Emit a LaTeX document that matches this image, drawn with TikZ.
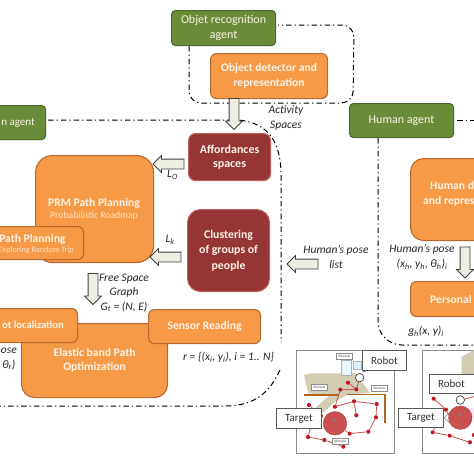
\documentclass[tikz,border=0pt]{standalone}
\usepackage{fontspec}
\setmainfont{Carlito}
\usetikzlibrary{shapes.arrows,calc}
\definecolor{org}{HTML}{F79A48}
\definecolor{orgd}{HTML}{B5692E}
\definecolor{grn}{HTML}{6A8C38}
\definecolor{grnd}{HTML}{4C6828}
\definecolor{drd}{HTML}{953536}
\definecolor{drdl}{HTML}{C0605C}
\definecolor{pale}{HTML}{FDF3E6}
\definecolor{arrf}{HTML}{EDEDE2}
\definecolor{dotr}{HTML}{C01A28}
\definecolor{lnr}{HTML}{C9504F}
\definecolor{beig}{HTML}{D3CDB4}
\definecolor{brn}{HTML}{B0641C}
\newcommand{\bx}[7]{\node[#2,anchor=north west,minimum width=#5pt-#3pt,minimum height=#6pt-#4pt] (#1) at (#3,#4) {#7};}
\tikzset{
 x=1pt,y=-1pt,
 base/.style={inner sep=0pt,align=center,line width=1.1pt},
 orange/.style={base,draw=orgd,fill=org,rounded corners=6pt,text=pale,font=\fontsize{11.6}{14.5}\selectfont\bfseries},
 green/.style={base,draw=grnd,fill=grn,rounded corners=4pt,text=pale,font=\fontsize{12}{14.5}\selectfont},
 dred/.style={base,draw=drdl,fill=drd,rounded corners=7pt,text=pale,font=\fontsize{12}{14.5}\selectfont\bfseries},
 agentline/.style={line width=1pt,dash pattern=on 5.5pt off 3pt on 1.3pt off 3pt,rounded corners=12pt},
 lab/.style={inner sep=0pt,align=center,font=\fontsize{11.5}{14.3}\selectfont\itshape,text=black!85},
 blk/.style={single arrow,draw=black!75,fill=arrf,line width=.8pt,inner sep=0pt,single arrow head extend=3.5pt,single arrow tip angle=90,minimum height=#1},
 callout/.style={draw=black!65,fill=white,line width=1pt,inner sep=0pt,font=\fontsize{11}{12}\selectfont,text=black!80},
 obst/.style={draw=black!45,fill=white,line width=.4pt,inner sep=0pt,minimum width=16pt,minimum height=6pt,font=\fontsize{3.5}{4}\selectfont,text=black!70},
 dot/.style={circle,fill=dotr,inner sep=0pt,minimum size=4.2pt},
 path/.style={draw=lnr,line width=.8pt},
}
\newcommand{\shaft}{\rule{0pt}{9pt}}
\begin{document}
\begin{tikzpicture}
\useasboundingbox (0,0) rectangle (474,474);
\clip (0,0) rectangle (474,474);
% dash-dot agent frames
\coordinate (a1) at (189,46);
\coordinate (a2) at (278,25);
\draw[agentline] (a1) -- (189,103) -- (353,103) -- (354,25) -- (a2);
\coordinate (b1) at (48,120);
\coordinate (b2) at (281,342);
\draw[agentline,rounded corners=0pt] (b1) -- (238,120) .. controls (262,122) and (281,135) .. (281,175) -- (b2);
\draw[agentline,rounded corners=0pt] (280,370) .. controls (270,392) and (255,406) .. (225,406) -- (0,406);
\coordinate (c1) at (457,120);
\coordinate (c2) at (474,120);
\draw[agentline] (c1) -- (c2);
\coordinate (c3) at (378,138);
\coordinate (c4) at (474,345);
\draw[agentline,rounded corners=24pt] (c3) -- (378,345) -- (c4);
% boxes
\bx{obj}{green}{171}{10}{275}{45}{Objet recognition\\agent}
\bx{det}{orange}{210}{53}{327}{98}{Object detector and\\representation}
\bx{nav}{green,font=\fontsize{11}{14}\selectfont}{-10}{105}{45}{139}{n agent}
\bx{hum}{green}{349}{103}{453}{137}{Human agent}
\bx{aff}{dred}{188}{133}{270}{180}{Affordances\\spaces}
\bx{clu}{dred,rounded corners=13pt,font=\fontsize{11.8}{15.5}\selectfont\bfseries}{187}{209}{269}{291}{Clustering\\of groups of\\people}
\bx{prm}{orange,rounded corners=17pt}{35}{155}{153}{262}{}
\node[text=pale,font=\fontsize{11.6}{12}\selectfont\bfseries] (prmt) at (94,203) {PRM Path Planning};
\node[text=pale!85!orange,font=\fontsize{9.7}{10}\selectfont] (prms) at (94,216) {Probabilistic Roadmap};
\bx{rrt}{orange}{-10}{226}{83}{259}{}
\node[text=pale,font=\fontsize{11.6}{12}\selectfont\bfseries,anchor=east] (rrtt) at (69,239) {Path Planning};
\node[text=pale!85!orange,font=\fontsize{8.2}{10}\selectfont,anchor=east,inner sep=0pt] (rrts) at (74,250.5) {Exploring Random Trip};
\bx{ela}{orange,rounded corners=13pt}{21}{323}{167}{397}{Elastic band Path\\Optimization}
\bx{loc}{orange}{-10}{308}{77}{342}{}
\node[text=pale,font=\fontsize{10.6}{12}\selectfont\bfseries,anchor=east,inner sep=0pt] (loct) at (64,325) {ot localization};
\bx{sen}{orange}{148}{309}{260}{343}{Sensor Reading}
\bx{hdr}{orange,rounded corners=13pt}{410}{158}{500}{240}{}
\node[text=pale,align=left,font=\fontsize{11.6}{14.5}\selectfont\bfseries,anchor=west,inner sep=0pt] (hdrt) at (423,194) {\hspace*{7pt}Human d\\and repres};
\bx{per}{orange}{410}{281}{500}{316}{}
\node[text=pale,font=\fontsize{11.6}{12}\selectfont\bfseries,anchor=west,inner sep=0pt] (pert) at (430,299) {Personal};
% block arrows
\node[blk=31pt,rotate=-90] (ar1) at (234,111.5) {\shaft};
\node[blk=31pt,rotate=180] (ar2) at (171,164) {\shaft};
\node[blk=31pt,rotate=180] (ar3) at (168,257) {\shaft};
\node[blk=31pt,rotate=180] (ar4) at (305,264) {\shaft};
\node[blk=31pt,rotate=-90] (ar5) at (93,286.5) {\shaft};
\node[blk=31pt,rotate=-90] (ar6) at (465,260) {\shaft};
% labels
\node[lab] (l1) at (286,118) {Activity\\Spaces};
\node[lab] (l2) at (172.5,175) {L\textsubscript{O}};
\node[lab] (l3) at (170,240) {L\textsubscript{k}};
\node[lab] (l4) at (124,293) {Free Space\\Graph\\G\textsubscript{t} = (N, E)};
\node[lab] (l5) at (336,257) {Human’s pose\\list};
\node[lab] (l6) at (422,257) {Human’s pose\\(x\textsubscript{h}, y\textsubscript{h}, θ\textsubscript{h})\textsubscript{i}};
\node[lab] (l7) at (426,331) {g\textsubscript{h}(x, y)\textsubscript{i}};
\node[lab,anchor=west] (l9) at (183,357) {r = \{(x\textsubscript{i}, y\textsubscript{i}), i = 1.. N\}};
\node[lab,anchor=east] (l10) at (17,359) {ose\\θ\textsubscript{r})};
% left inset
\draw[draw=black!45,fill=white,line width=1pt] (296,350) rectangle (394,453);
\begin{scope}[shift={(280,340)},x=.3333pt,y=-.3333pt]
\fill[beig] (72,105) -- (95,100) -- (180,100) -- (225,98) -- (270,158) -- (200,165) -- (165,185) -- (118,228) -- (104,205) -- (150,165) -- (85,160) -- cycle;
\draw[draw=black!30,fill=cyan!10,line width=.5pt] (183,60) rectangle (215,105);
\draw[draw=black!30,fill=cyan!15,line width=.5pt] (220,65) rectangle (245,87);
\draw[brn,line width=1.6pt] (72,165) -- (175,165) (200,163) -- (315,163) -- (315,250);
\node[circle,fill=lnr,draw=lnr!80!black,minimum size=23.5pt,inner sep=0pt] (d1) at (165,250) {};
\node[circle,fill=black!50,inner sep=0pt,minimum size=3.5pt] (d1c) at (163,241) {};
\node[circle,draw=black!75,fill=white,line width=.7pt,minimum size=8.5pt,inner sep=0pt] (r1) at (239,113) {};
\foreach \n/\p in {A/{204,128},B/{229,148},C/{181,149},D/{165,200},E/{222,184},F/{229,226},G/{290,192},H/{288,232},I/{265,275},J/{209,281},K/{190,320},L/{133,300},M/{84,291},N/{87,195},P/{123,228}}
  {\node[dot] (\n) at (\p) {};}
\draw[path] (A) -- (B) -- (C) -- (D) -- (E) -- (F) (E) -- (G) -- (H) -- (I) -- (J) -- (d1) (K) -- (L) -- (M) -- (93,258) (N) -- (P) (B) -- (r1);
\node[obst] (o1) at (193,49) {Obstacle};
\node[obst] (o2) at (118,142) {Obstacle};
\node[obst] (o3) at (298,145) {Obstacle};
\node[obst] (o4) at (180,304) {Obstacle};
\end{scope}
% right inset
\draw[draw=black!45,fill=white,line width=1pt] (422,350) rectangle (500,453);
\begin{scope}[shift={(280,340)},x=.3333pt,y=-.3333pt]
\fill[beig] (545,50) -- (582,30) -- (582,150) -- (545,150) -- cycle;
\fill[magenta!12] (570,205) rectangle (582,235);
\node[circle,fill=lnr,draw=lnr!80!black,minimum size=23.5pt,inner sep=0pt] (d2) at (541,233) {};
\node[circle,fill=black!50,inner sep=0pt,minimum size=3.5pt] (d2c) at (538,224) {};
\node[circle,draw=black!75,fill=white,line width=.7pt,minimum size=8.5pt,inner sep=0pt] (r2) at (541,180) {};
\foreach \n/\p in {Q/{461,176},R/{498,209},S/{458,277},T/{509,287},U/{570,307},V/{582,285}}
  {\node[dot] (\n) at (\p) {};}
\draw[path] (Q) -- (R) (R) -- (510,232) (S) -- (T) -- (U) (S) -- (470,250) (r2) -- (582,170);
\end{scope}
% callouts
\bx{rb1}{callout}{362}{350}{406}{370}{Robot}
\bx{tg1}{callout}{276}{408}{321}{428}{Target}
\bx{rb2}{callout}{429}{374}{480}{393}{\hspace*{-7pt}Robot}
\bx{tg2}{callout}{398}{408}{443}{427}{Target}
\coordinate (q1) at (366,372);
\draw[black!70,line width=.6pt] (rb1.south) ++(-22,0) -- (q1);
\draw[black!50,line width=.5pt] (tg2.east) -- ++(6,-6) (tg2.east) -- ++(6,5);
\end{tikzpicture}
\end{document}
